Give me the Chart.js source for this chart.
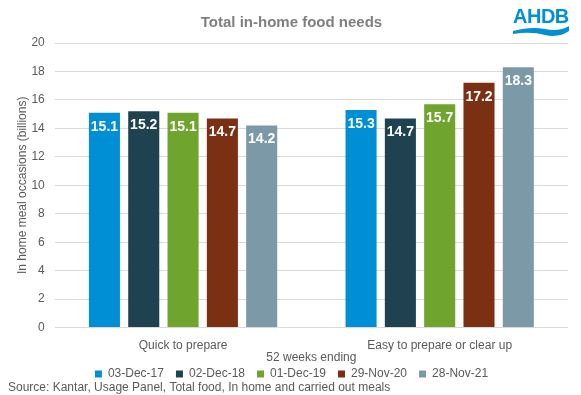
<!DOCTYPE html>
<html><head><meta charset="utf-8">
<script src="https://cdn.jsdelivr.net/npm/chart.js@4/dist/chart.umd.min.js"></script>
<style>
html,body{margin:0;padding:0;background:#fff;}
#wrap{position:relative;width:581px;height:395px;}
#logo{position:absolute;left:511px;top:5px;width:62px;height:34px;}
#logo span{position:absolute;left:2px;top:0;font:bold 20px "Liberation Sans",Arial,sans-serif;color:#0090d4;letter-spacing:-0.5px;}
</style></head>
<body><div id="wrap"><canvas id="c" width="581" height="395"></canvas>
<div id="logo"><span>AHDB</span><svg width="62" height="34" style="position:absolute;left:0;top:0"><path d="M2 26 Q20 21 34 24 Q48 27 58 21 L58 26 Q48 33 34 30 Q20 26 2 29 Z" fill="#0090d4"/></svg></div>
</div>
<script>
const categories = ["Quick to prepare", "Easy to prepare or clear up"];
const seriesNames = ["03-Dec-17", "02-Dec-18", "01-Dec-19", "29-Nov-20", "28-Nov-21"];
const s1 = [15.1, 15.3];
const s2 = [15.2, 14.7];
const s3 = [15.1, 15.7];
const s4 = [14.7, 17.2];
const s5 = [14.2, 18.3];
const colors = ["#008fd5", "#1f4250", "#6fa52f", "#7b3013", "#7c99a7"];
const FONT = "'Liberation Sans', Arial, sans-serif";
const GREY = "#595959";

const valueLabels = {
  id: 'valueLabels',
  afterDatasetsDraw(chart) {
    const ctx = chart.ctx;
    ctx.save();
    ctx.font = "bold 14px " + FONT;
    ctx.fillStyle = "#ffffff";
    ctx.textAlign = "center";
    ctx.textBaseline = "middle";
    chart.data.datasets.forEach((ds, i) => {
      chart.getDatasetMeta(i).data.forEach((bar, j) => {
        ctx.fillText(ds.data[j].toFixed(1), bar.x, bar.y + 14);
      });
    });
    ctx.restore();
  }
};
const extraText = {
  id: 'extraText',
  afterDraw(chart) {
    const ctx = chart.ctx;
    const a = chart.chartArea;
    ctx.save();
    ctx.font = "12px " + FONT;
    ctx.fillStyle = GREY;
    ctx.textBaseline = "middle";
    ctx.textAlign = "center";
    ctx.fillText("52 weeks ending", (a.left + a.right) / 2, a.bottom + 30);
    ctx.textAlign = "left";
    ctx.fillText("Source: Kantar, Usage Panel, Total food, In home and carried out meals", 8, 388);
    ctx.restore();
  }
};

const allSeries = [s1, s2, s3, s4, s5];
new Chart(document.getElementById('c'), {
  type: 'bar',
  data: {
    labels: categories,
    datasets: allSeries.map((d, i) => ({
      label: seriesNames[i], data: d, backgroundColor: colors[i],
      categoryPercentage: 0.766, barPercentage: 0.79
    }))
  },
  options: {
    responsive: false, animation: false,
    layout: { padding: { left: 15, right: 13, top: 0, bottom: 5 } },
    plugins: {
      title: { display: true, text: "Total in-home food needs", color: "#7f7f7f",
        font: { family: FONT, size: 15, weight: 'bold' }, padding: { top: 14, bottom: 11 } },
      legend: { position: 'bottom',
        labels: { color: GREY, font: { family: FONT, size: 12 }, boxWidth: 7, boxHeight: 7, padding: 12, usePointStyle: true, pointStyle: 'rect' } },
      tooltip: { enabled: false }
    },
    scales: {
      x: { grid: { display: false }, border: { display: false },
        ticks: { color: GREY, font: { family: FONT, size: 12 }, padding: 3 } },
      y: { min: 0, max: 20, ticks: { stepSize: 2, color: GREY, font: { family: FONT, size: 12 }, padding: 10 },
        grid: { color: "#d9d9d9", drawTicks: false }, border: { display: false },
        title: { display: true, text: "In home meal occasions (billions)", color: GREY, font: { family: FONT, size: 12 }, padding: { top: 0, bottom: -8 } } }
    }
  },
  plugins: [valueLabels, extraText]
});
</script></body></html>
